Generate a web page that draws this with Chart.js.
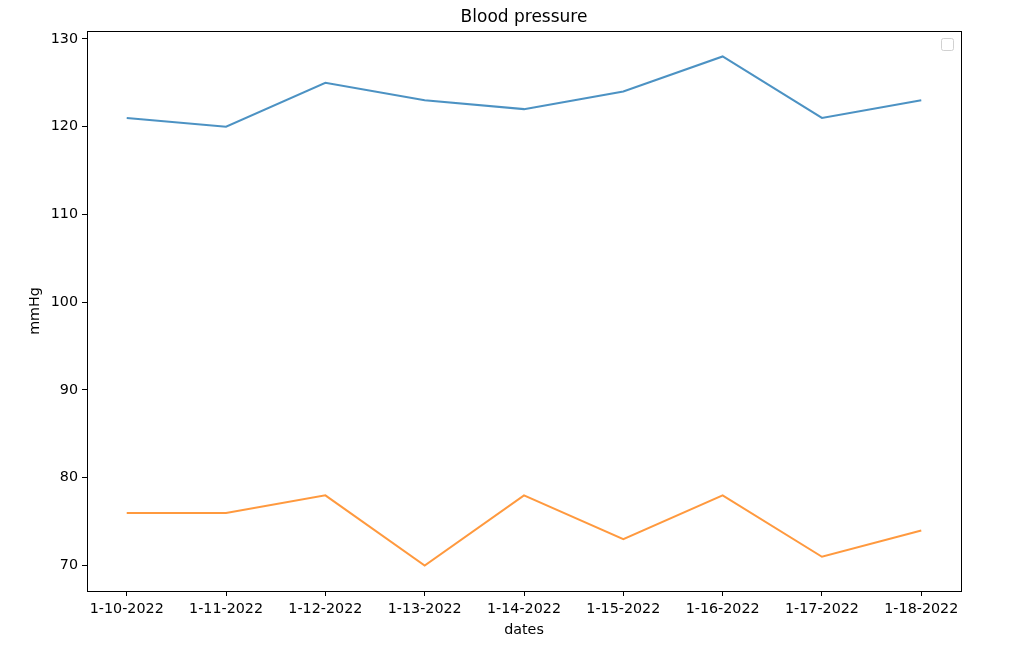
<!DOCTYPE html>
<html>
<head>
<meta charset="utf-8">
<script src="https://cdn.jsdelivr.net/npm/chart.js@4/dist/chart.umd.min.js"></script>
<style>
html,body{margin:0;padding:0;background:#fff;}
#wrap{width:1024px;height:653px;position:relative;}
</style>
</head>
<body>
<div id="wrap"><canvas id="c" width="1024" height="653"></canvas></div>
<script>
const dates = ["1-10-2022","1-11-2022","1-12-2022","1-13-2022","1-14-2022","1-15-2022","1-16-2022","1-17-2022","1-18-2022"];
const systolic = [121,120,125,123,122,124,128,121,123];
const diastolic = [76,76,78,70,78,73,78,71,74];
const yTicks = [70,80,90,100,110,120,130];
const titleText = "Blood pressure";
const xLabel = "dates";
const yLabel = "mmHg";

const FONT = "'DejaVu Sans', sans-serif";
const FS = 14.3;

const framePlugin = {
  id: 'frame',
  afterDraw(chart) {
    const {ctx, chartArea: a} = chart;
    ctx.save();
    ctx.strokeStyle = '#000';
    ctx.lineWidth = 1;
    ctx.strokeRect(Math.round(a.left)+0.5, Math.round(a.top)+0.5, Math.round(a.right-a.left), Math.round(a.bottom-a.top));
    // empty legend frame
    const w = 12, h = 12, x = a.right - 8 - w, y = a.top + 7;
    ctx.strokeStyle = 'rgba(204,204,204,0.9)';
    ctx.fillStyle = 'rgba(255,255,255,0.8)';
    ctx.beginPath();
    if (ctx.roundRect) ctx.roundRect(x+0.5, y+0.5, w, h, 2); else ctx.rect(x+0.5,y+0.5,w,h);
    ctx.fill(); ctx.stroke();
    // title
    ctx.fillStyle = '#000';
    ctx.font = "17px " + FONT;
    ctx.textAlign = 'center';
    ctx.textBaseline = 'middle';
    ctx.fillText(titleText, (a.left + a.right)/2, 18);
    // axis titles
    ctx.font = FS + "px " + FONT;
    ctx.fillText(xLabel, (a.left + a.right)/2, 630);
    ctx.save();
    ctx.translate(35, (a.top + a.bottom)/2);
    ctx.rotate(-Math.PI/2);
    ctx.fillText(yLabel, 0, 0);
    ctx.restore();
    ctx.restore();
  }
};

new Chart(document.getElementById('c'), {
  type: 'line',
  data: {
    datasets: [
      { label: 'systolic', data: systolic.map((v,i)=>({x:i,y:v})), borderColor: 'rgba(31,119,180,0.8)', borderWidth: 2, pointRadius: 0, tension: 0, fill: false },
      { label: 'diastolic', data: diastolic.map((v,i)=>({x:i,y:v})), borderColor: 'rgba(255,127,14,0.8)', borderWidth: 2, pointRadius: 0, tension: 0, fill: false }
    ]
  },
  options: {
    responsive: false,
    animation: false,
    devicePixelRatio: 1,
    layout: { padding: { left: 0, right: 63, top: 31, bottom: 0 } },
    plugins: { legend: { display: false }, title: { display: false }, tooltip: { enabled: false } },
    scales: {
      x: {
        type: 'linear',
        min: -0.4, max: dates.length - 1 + 0.4,
        afterBuildTicks(s) { s.ticks = dates.map((d,i)=>({value:i})); },
        afterFit(s) { s.height = 62; },
        ticks: { callback: (v) => dates[v], color: '#000', font: { family: FONT, size: FS }, padding: 5, maxRotation: 0, autoSkip: false },
        grid: { drawOnChartArea: false, drawTicks: true, tickLength: 5, color: '#000' },
        border: { display: true, color: '#000' },
        title: { display: false }
      },
      y: {
        type: 'linear',
        min: 67.1, max: 130.9,
        afterBuildTicks(s) { s.ticks = yTicks.map(v=>({value:v})); },
        afterFit(s) { s.width = 87; },
        ticks: { color: '#000', font: { family: FONT, size: FS }, padding: 4 },
        grid: { drawOnChartArea: false, drawTicks: true, tickLength: 5, color: '#000' },
        border: { display: true, color: '#000' },
        title: { display: false }
      }
    }
  },
  plugins: [framePlugin]
});
</script>
</body>
</html>
